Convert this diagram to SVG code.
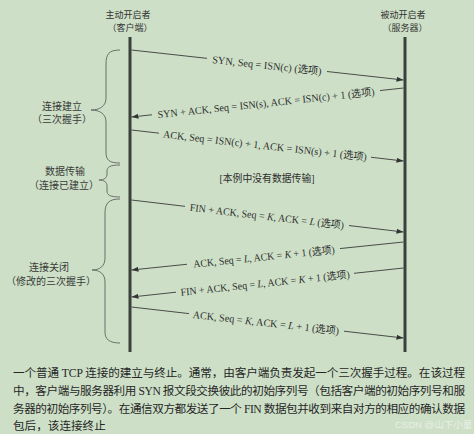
<svg xmlns="http://www.w3.org/2000/svg" width="474" height="434" viewBox="0 0 474 434">
<defs>
<marker id="ah" markerUnits="userSpaceOnUse" markerWidth="8" markerHeight="6" refX="7" refY="3" orient="auto">
<path d="M0,0.5 L7,3 L0,5.5 z" fill="#333"/>
</marker>
<style>
.tl{stroke:#3a413a;stroke-width:3;fill:none}
.hd{font-family:"Noto Sans CJK SC","Liberation Sans",sans-serif;font-size:9px;fill:#333;text-anchor:middle}
.br{stroke:#6a6f6a;stroke-width:1;fill:none}
.bl{font-family:"Liberation Serif","Noto Sans CJK SC",serif;font-size:10px;fill:#3a3a3a;text-anchor:middle}
.ln{stroke:#3a3a3a;stroke-width:0.9;fill:none}
.lb{font-family:"Liberation Serif","Noto Sans CJK SC",serif;font-size:10.5px;fill:#2e2e2e;text-anchor:middle}
.cp{font-family:"Liberation Serif","Noto Sans CJK SC",serif;font-size:11.6px;fill:#262626}
</style>
</defs>
<rect width="474" height="434" fill="#cde0c7"/>
<g id="client">
<text class="hd" x="128" y="18">主动开启者</text>
<text class="hd" x="130" y="31">（客户端）</text>
<line class="tl" x1="130" y1="37" x2="130" y2="352"/>
</g>
<g id="server">
<text class="hd" x="403" y="18">被动开启者</text>
<text class="hd" x="405" y="31">（服务器）</text>
<line class="tl" x1="405" y1="37" x2="405" y2="352"/>
</g>
<g id="phase-open">
<path class="br" d="M120,50 C109,50 106,54 106,64 L106,98 C106,106 100,110 91,110 C100,110 106,114 106,122 L106,152 C106,160 109,163 120,163"/>
<text class="bl" x="62" y="110">连接建立</text>
<text class="bl" x="62" y="123">（三次握手）</text>
</g>
<g id="phase-data">
<path class="br" d="M120,165 C110,165 107,167 107,171 L107,174 C107,178 104,180 99,180 C104,180 107,182 107,186 L107,191 C107,195 110,197 120,197"/>
<text class="bl" x="65" y="175">数据传输</text>
<text class="bl" x="64" y="189">（连接已建立）</text>
</g>
<g id="phase-close">
<path class="br" d="M120,199 C109,199 105,203 105,213 L105,258 C105,266 100,270 92,270 C100,270 105,274 105,282 L105,332 C105,339 109,343 120,343"/>
<text class="bl" x="49" y="271">连接关闭</text>
<text class="bl" x="51" y="285">（修改的三次握手）</text>
</g>
<g id="connectors">
<line class="ln" x1="131.5" y1="50" x2="207" y2="58.35"/>
<line class="ln" x1="327" y1="71.5" x2="403.5" y2="80" marker-end="url(#ah)"/>
<text class="lb" x="267" y="69" transform="rotate(6.27 267 64.9)" textLength="110" lengthAdjust="spacingAndGlyphs">SYN, Seq = ISN(c) (选项)</text>

<line class="ln" x1="403.5" y1="88" x2="380" y2="90.56"/>
<line class="ln" x1="152" y1="114.77" x2="131.5" y2="117" marker-end="url(#ah)"/>
<text class="lb" x="266" y="106.7" transform="rotate(-6.06 266 102.7)" textLength="218" lengthAdjust="spacingAndGlyphs">SYN + ACK, Seq = ISN(s), ACK = ISN(c) + 1 (选项)</text>

<line class="ln" x1="131.5" y1="130" x2="159" y2="133.18"/>
<line class="ln" x1="371" y1="157.26" x2="403.5" y2="161" marker-end="url(#ah)"/>
<text class="lb" x="265" y="149.2" transform="rotate(6.48 265 145.2)" textLength="205" lengthAdjust="spacingAndGlyphs">ACK, Seq = ISN(c) + 1, ACK = ISN(s) + 1 (选项)</text>

<text class="lb" x="267" y="182" textLength="95" lengthAdjust="spacingAndGlyphs">[本例中没有数据传输]</text>

<line class="ln" x1="131.5" y1="200" x2="185" y2="206.33"/>
<line class="ln" x1="349" y1="225.55" x2="403.5" y2="232" marker-end="url(#ah)"/>
<text class="lb" x="267" y="219.9" transform="rotate(6.69 267 215.9)" textLength="155" lengthAdjust="spacingAndGlyphs">FIN + ACK, Seq = <tspan font-style="italic">K</tspan>, ACK = <tspan font-style="italic">L</tspan> (选项)</text>

<line class="ln" x1="403.5" y1="242" x2="340" y2="248.56"/>
<line class="ln" x1="187" y1="264.25" x2="131.5" y2="270" marker-end="url(#ah)"/>
<text class="lb" x="264" y="260.4" transform="rotate(-5.86 264 256.4)" textLength="142" lengthAdjust="spacingAndGlyphs">ACK, Seq = <tspan font-style="italic">L</tspan>, ACK = <tspan font-style="italic">K</tspan> + 1 (选项)</text>

<line class="ln" x1="403.5" y1="268" x2="354" y2="273.3"/>
<line class="ln" x1="176" y1="292.2" x2="131.5" y2="297" marker-end="url(#ah)"/>
<text class="lb" x="265" y="286.8" transform="rotate(-6.06 265 282.8)" textLength="170" lengthAdjust="spacingAndGlyphs">FIN + ACK, Seq = <tspan font-style="italic">L</tspan>, ACK = <tspan font-style="italic">K</tspan> + 1 (选项)</text>

<line class="ln" x1="131.5" y1="307" x2="189" y2="313.6"/>
<line class="ln" x1="344" y1="331.2" x2="403.5" y2="338" marker-end="url(#ah)"/>
<text class="lb" x="266" y="326.3" transform="rotate(6.48 266 322.3)" textLength="147" lengthAdjust="spacingAndGlyphs">ACK, Seq = <tspan font-style="italic">K</tspan>, ACK = <tspan font-style="italic">L</tspan> + 1 (选项)</text>
</g>
<g id="caption">
<text class="cp" x="13" y="377" textLength="452" lengthAdjust="spacing">一个普通 TCP 连接的建立与终止。通常，由客户端负责发起一个三次握手过程。在该过程</text>
<text class="cp" x="13" y="395" textLength="452" lengthAdjust="spacing">中，客户端与服务器利用 SYN 报文段交换彼此的初始序列号（包括客户端的初始序列号和服</text>
<text class="cp" x="13" y="413" textLength="452" lengthAdjust="spacing">务器的初始序列号）。在通信双方都发送了一个 FIN 数据包并收到来自对方的相应的确认数据</text>
<text class="cp" x="13" y="430">包后，该连接终止</text>
<text x="395" y="428" font-family="Liberation Sans, Noto Sans CJK SC, sans-serif" font-size="9.5" fill="#eef3ec" fill-opacity="0.85">CSDN @山下小童</text>
</g>
</svg>
